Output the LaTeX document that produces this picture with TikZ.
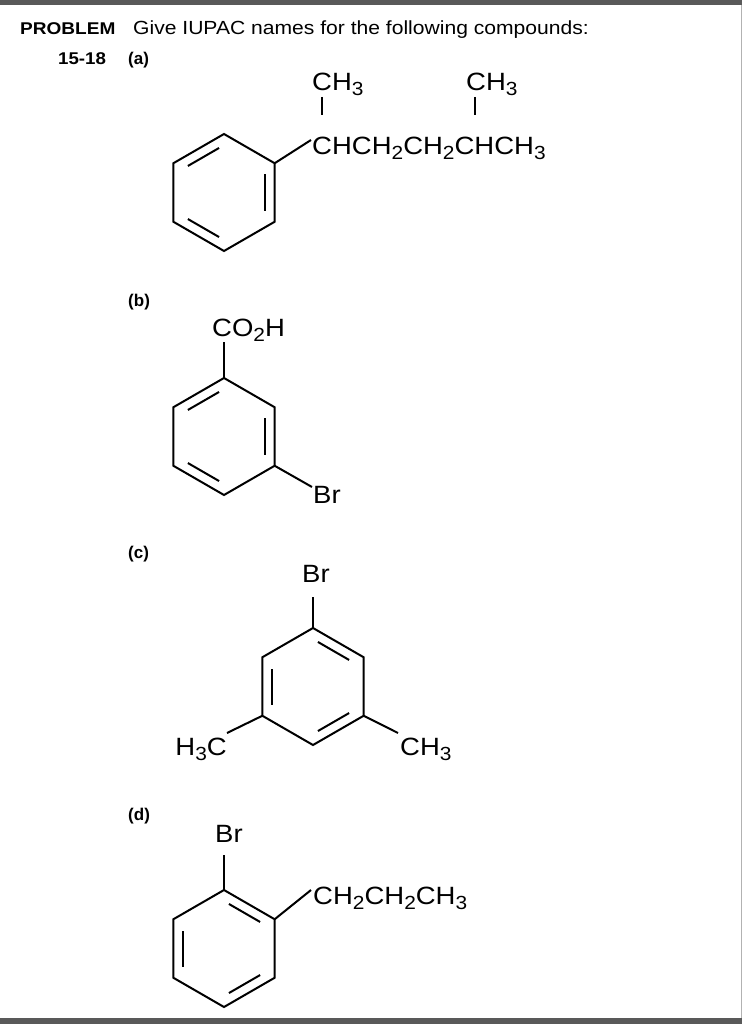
\documentclass[tikz,border=0pt]{standalone}
\usepackage{fontspec}
\setmainfont{Liberation Sans}
\usetikzlibrary{calc}
\newcommand\sbs[1]{\raisebox{-5pt}{\fontsize{19}{19}\selectfont #1}}
\newcommand\benz[4]{%
  \coordinate (#1c) at (#2,#3);
  \coordinate (#11) at ($(#1c)+(-90:58.5)$);
  \coordinate (#12) at ($(#1c)+(-30:58.5)$);
  \coordinate (#13) at ($(#1c)+(30:58.5)$);
  \coordinate (#14) at ($(#1c)+(90:58.5)$);
  \coordinate (#15) at ($(#1c)+(150:58.5)$);
  \coordinate (#16) at ($(#1c)+(210:58.5)$);
  \draw[bond] (#11)--(#12)--(#13)--(#14)--(#15)--(#16)--cycle;
  \foreach \p/\q in {#4}{
    \draw[bond] ($($(#1\p)!0.12!(#1\q)$)!0.19!(#1c)$) -- ($($(#1\q)!0.12!(#1\p)$)!0.19!(#1c)$);}
}
\begin{document}
\begin{tikzpicture}[x=1pt,y=-1pt,
  bond/.style={line width=2pt,line join=miter},
  chem/.style={inner sep=0pt,font=\fontsize{25}{25}\selectfont},
  head/.style={inner sep=0pt,anchor=base west,font=\fontsize{19}{19}\selectfont},
  lab/.style={inner sep=0pt,anchor=base west,font=\bfseries\fontsize{17}{17}\selectfont}]
\useasboundingbox (0,0) rectangle (742,1024);
\fill[gray!70!black] (0,0) rectangle (742,5);
\fill[gray!70!black] (0,1018) rectangle (742,1024);
\draw[gray!60,line width=1pt] (741,5) -- (741,1018);
\node[lab] (prob) at (20,35) {\scalebox{1.12}[1]{PROBLEM}};
\node[head] (title) at (133,35) {\scalebox{1.11}[1]{Give IUPAC names for the following compounds:}};
\node[lab] (num) at (58,65) {\scalebox{1.1}[1]{15-18}};
\node[lab] (la) at (128,65) {(a)};
\node[lab] (lb) at (128,306) {(b)};
\node[lab] (lc) at (128,558) {(c)};
\node[lab] (ld) at (128,820) {(d)};
% (a)
\benz{a}{224}{192.5}{6/1,2/3,4/5}
\node[chem,anchor=base west] (achain) at (312,155) {\scalebox{1.1}[1]{CHCH\sbs{2}CH\sbs{2}CHCH\sbs{3}}};
\node[chem,anchor=base west] (ame1) at (312,91) {\scalebox{1.1}[1]{CH\sbs{3}}};
\node[chem,anchor=base west] (ame2) at (466,91) {\scalebox{1.1}[1]{CH\sbs{3}}};
\coordinate (ab1) at (322,97); \coordinate (ab2) at (322,115);
\coordinate (ab3) at (475,97); \coordinate (ab4) at (475,115);
\draw[bond] (ab1)--(ab2); \draw[bond] (ab3)--(ab4);
\coordinate (aend) at (311,140);
\draw[bond] (a2)--(aend);
% (b)
\benz{b}{224}{436.5}{6/1,2/3,4/5}
\node[chem,anchor=base west] (bco) at (212,336) {\scalebox{1.1}[1]{CO\sbs{2}H}};
\coordinate (bt) at (224,342);
\draw[bond] (b1)--(bt);
\node[chem,anchor=base west] (bbr) at (313,503) {\scalebox{1.1}[1]{Br}};
\coordinate (bbe) at (312,487);
\draw[bond] (b3)--(bbe);
% (c)
\benz{c}{313}{686.5}{1/2,3/4,5/6}
\node[chem,anchor=base west] (cbr) at (302,582) {\scalebox{1.1}[1]{Br}};
\coordinate (cbe) at (313,597);
\draw[bond] (c1)--(cbe);
\node[chem,anchor=base east] (cme1) at (227,755) {\scalebox{1.1}[1]{H\sbs{3}C}};
\coordinate (cle) at (227,733);
\draw[bond] (c5)--(cle);
\node[chem,anchor=base west] (cme2) at (400,755) {\scalebox{1.1}[1]{CH\sbs{3}}};
\coordinate (cre) at (398,733);
\draw[bond] (c3)--(cre);
% (d)
\benz{d}{224}{948.5}{1/2,3/4,5/6}
\node[chem,anchor=base west] (dbr) at (215,842) {\scalebox{1.1}[1]{Br}};
\coordinate (dbe) at (224,855);
\draw[bond] (d1)--(dbe);
\node[chem,anchor=base west] (dch) at (313,904) {\scalebox{1.1}[1]{CH\sbs{2}CH\sbs{2}CH\sbs{3}}};
\coordinate (dre) at (311,890);
\draw[bond] (d2)--(dre);
\end{tikzpicture}
\end{document}
